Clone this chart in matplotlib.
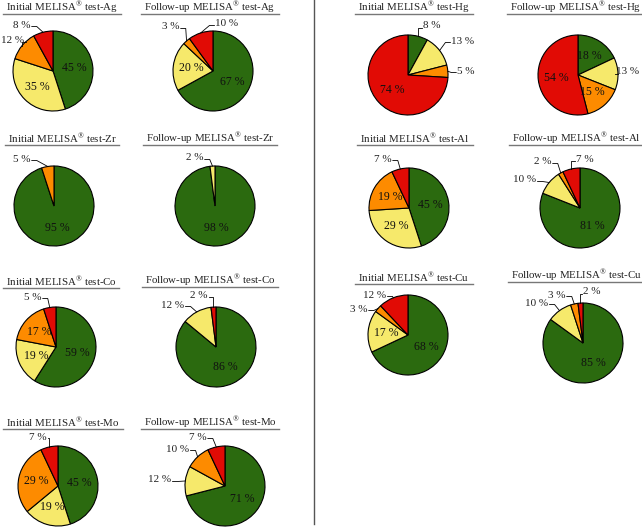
import numpy as np
import matplotlib
matplotlib.use('Agg')
import matplotlib.pyplot as plt
from matplotlib.lines import Line2D

plt.rcParams['font.family'] = ['Liberation Serif', 'DejaVu Serif']
plt.rcParams['mathtext.fontset'] = 'custom'
plt.rcParams['mathtext.rm'] = 'Liberation Serif'
plt.rcParams['mathtext.it'] = 'Liberation Serif:italic'

W, H = 642, 527

# reactivity levels, clockwise from 12 o'clock
levels = ['negative', 'weak', 'moderate', 'strong']
level_colors = ['#2b6a0f', '#f6e96b', '#fd8b00', '#e10b05']

metals = ['Ag', 'Zr', 'Co', 'Mo', 'Hg', 'Al', 'Cu']

ag_initial = [45, 35, 12, 8]
ag_followup = [67, 20, 3, 10]
zr_initial = [95, 0, 5, 0]
zr_followup = [98, 2, 0, 0]
co_initial = [59, 19, 17, 5]
co_followup = [86, 12, 0, 2]
mo_initial = [45, 19, 29, 7]
mo_followup = [71, 12, 10, 7]
hg_initial = [8, 13, 5, 74]
hg_followup = [18, 13, 15, 54]
al_initial = [45, 29, 19, 7]
al_followup = [81, 10, 2, 7]
cu_initial = [68, 17, 3, 12]
cu_followup = [85, 10, 3, 2]

values = {
    ('Ag', 'i'): ag_initial, ('Ag', 'f'): ag_followup,
    ('Zr', 'i'): zr_initial, ('Zr', 'f'): zr_followup,
    ('Co', 'i'): co_initial, ('Co', 'f'): co_followup,
    ('Mo', 'i'): mo_initial, ('Mo', 'f'): mo_followup,
    ('Hg', 'i'): hg_initial, ('Hg', 'f'): hg_followup,
    ('Al', 'i'): al_initial, ('Al', 'f'): al_followup,
    ('Cu', 'i'): cu_initial, ('Cu', 'f'): cu_followup,
}

# layout (pixels): pie centre, title centre
R = 40
pie_pos = {
    ('Ag', 'i'): (53, 71), ('Ag', 'f'): (213, 71),
    ('Zr', 'i'): (54, 206), ('Zr', 'f'): (215, 206),
    ('Co', 'i'): (56, 347), ('Co', 'f'): (216, 347),
    ('Mo', 'i'): (58, 486), ('Mo', 'f'): (225, 486),
    ('Hg', 'i'): (408, 75), ('Hg', 'f'): (578, 75),
    ('Al', 'i'): (409, 208), ('Al', 'f'): (580, 208),
    ('Cu', 'i'): (408, 335), ('Cu', 'f'): (583, 343),
}
title_pos = {
    ('Ag', 'i'): (62, 7), ('Ag', 'f'): (210, 7),
    ('Zr', 'i'): (62, 138), ('Zr', 'f'): (210, 138),
    ('Co', 'i'): (61, 281), ('Co', 'f'): (210, 280),
    ('Mo', 'i'): (63, 422), ('Mo', 'f'): (210, 422),
    ('Hg', 'i'): (414, 7), ('Hg', 'f'): (576, 7),
    ('Al', 'i'): (415, 138), ('Al', 'f'): (576, 138),
    ('Cu', 'i'): (414, 277), ('Cu', 'f'): (576, 275),
}
# outside label offsets from pie centre (pixels, y down), by slice index
outside = {
    ('Ag', 'i'): {2: (-40, -31), 3: (-31, -46)},
    ('Ag', 'f'): {2: (-42, -44), 3: (14, -47)},
    ('Zr', 'i'): {2: (-32, -47)},
    ('Zr', 'f'): {1: (-20, -48)},
    ('Co', 'i'): {3: (-23, -50)},
    ('Co', 'f'): {1: (-43, -42), 3: (-17, -52)},
    ('Mo', 'i'): {3: (-20, -49)},
    ('Mo', 'f'): {1: (-65, -6), 2: (-47, -37), 3: (-27, -49)},
    ('Hg', 'i'): {0: (24, -49), 1: (55, -34), 2: (58, -4)},
    ('Hg', 'f'): {1: (50, -3)},
    ('Al', 'i'): {3: (-26, -49)},
    ('Al', 'f'): {1: (-55, -28), 2: (-37, -46), 3: (5, -49)},
    ('Cu', 'i'): {2: (-49, -26), 3: (-33, -40)},
    ('Cu', 'f'): {1: (-46, -40), 2: (-26, -48), 3: (9, -51)},
}

fig = plt.figure(figsize=(W / 100, H / 100), dpi=100)
renderer = fig.canvas.get_renderer()

def draw_pie(key):
    cx, cy = pie_pos[key]
    ax = fig.add_axes([(cx - R) / W, 1 - (cy + R) / H, 2 * R / W, 2 * R / H])
    vals = values[key]
    idx = [k for k, v in enumerate(vals) if v > 0]
    wedges, _ = ax.pie([vals[k] for k in idx], colors=[level_colors[k] for k in idx],
                       startangle=90, counterclock=False, radius=1,
                       wedgeprops=dict(edgecolor='black', linewidth=0.8))
    ax.set_xlim(-1, 1)
    ax.set_ylim(-1, 1)
    ax.axis('off')
    px = 1.0 / R  # one pixel in data units
    for w, k in zip(wedges, idx):
        mid = np.deg2rad((w.theta1 + w.theta2) / 2)
        label = f'{vals[k]} %'
        if k in outside[key]:
            dx, dy = outside[key][k]
            lx, ly = dx * px, -dy * px
            t = ax.text(lx, ly, label, ha='center', va='center', fontsize=8,
                        color='#222222', clip_on=False)
            bb = t.get_window_extent(renderer).transformed(ax.transData.inverted())
            ex, ey = np.cos(mid), np.sin(mid)
            yb = ly - 1.5 * px
            if lx < ex:
                x0 = bb.x1 + 1 * px
                x1 = min(x0 + 5 * px, ex)
            else:
                x0 = bb.x0 - 1 * px
                x1 = max(x0 - 5 * px, ex)
            ax.add_line(Line2D([x0, x1, ex], [yb, yb, ey], color='black', lw=0.6,
                               clip_on=False))
        else:
            ax.text(0.55 * np.cos(mid), 0.55 * np.sin(mid), label,
                    ha='center', va='center', fontsize=8.5, color='#111111')

titles = []
for m in metals:
    for stage, name in [('i', 'Initial'), ('f', 'Follow-up')]:
        key = (m, stage)
        draw_pie(key)
        tx, ty = title_pos[key]
        t = fig.text(tx / W, 1 - ty / H, name + ' MELISA$^{\u00ae}$ test-' + m,
                     ha='center', va='center', fontsize=7.8, color='#222222')
        titles.append((t, ty))

# underline each title
for t, ty in titles:
    bb = t.get_window_extent(renderer)
    y = 1 - (ty + 7) / H
    fig.add_artist(Line2D([(bb.x0 - 3) / W, (bb.x1 + 3) / W], [y, y],
                          color='#777777', lw=1.0))

# divider between the two halves
fig.add_artist(Line2D([314 / W, 314 / W], [1, 1 - 524 / H], color='#555555', lw=1.0))

fig.savefig('out.png', dpi=100)
